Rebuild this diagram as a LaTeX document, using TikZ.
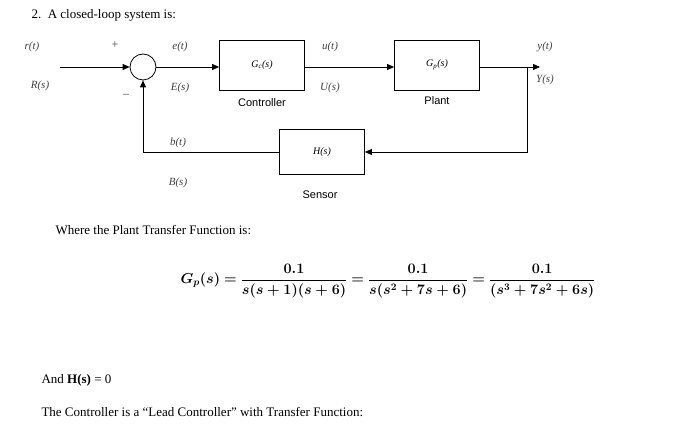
\documentclass[tikz,border=0pt]{standalone}
\usepackage{amsmath,bm}
\usepackage{fontspec}
\setmainfont{Liberation Serif}
\setsansfont{Liberation Sans}
\usetikzlibrary{arrows.meta}
\begin{document}
\begin{tikzpicture}[x=1pt,y=-1pt,
  blk/.style={draw,thick,minimum width=85pt,minimum height=50pt},
  ln/.style={thick,-{Triangle[length=7pt,width=6pt]}},
  lab/.style={font=\itshape\fontsize{11}{13}\selectfont,text=black!75},
  txt/.style={font=\fontsize{13}{15}\selectfont,anchor=west}]
\useasboundingbox[fill=white] (0,0) rectangle (700,435);
\node[txt] (title) at (28,15) {2.\ \ A closed-loop system is:};
\coordinate (in) at (60,67);
\node[draw,thick,circle,minimum size=26pt,inner sep=0] (sum) at (143,67) {};
\node[blk] (gc) at (262,65) {\itshape G\textsubscript{c}(s)};
\node[blk] (gp) at (437,65) {\itshape G\textsubscript{p}(s)};
\node[blk,minimum width=85pt,minimum height=45pt] (h) at (322,152) {\itshape H(s)};
\coordinate (out) at (540,67);
\coordinate (fb) at (527,67);
\draw[ln] (in) -- (sum);
\draw[ln] (sum) -- (gc.west|-sum);
\draw[ln] (gc.east|-sum) -- (gp.west|-sum);
\draw[ln] (gp.east|-sum) -- (out);
\draw[ln] (fb) |- (h.east);
\draw[ln] (h.west) -| (sum.south);
\node[lab] (rt) at (32,47) {r(t)};
\node[lab] (rs) at (40,86) {R(s)};
\node[lab,font=\fontsize{12}{14}\selectfont] (plus) at (115,45) {+};
\node[lab,font=\fontsize{12}{14}\selectfont] (minus) at (126,96) {--};
\node[lab] (et) at (180,47) {e(t)};
\node[lab] (es) at (180,88) {E(s)};
\node[lab] (ut) at (330,47) {u(t)};
\node[lab] (us) at (330,88) {U(s)};
\node[lab] (yt) at (545,47) {y(t)};
\node[lab] (ys) at (545,80) {Y(s)};
\node[lab] (bt) at (178,143) {b(t)};
\node[lab] (bs) at (178,183) {B(s)};
\node[font=\sffamily\fontsize{11}{13}\selectfont] (ctl) at (262,103) {Controller};
\node[font=\sffamily\fontsize{11}{13}\selectfont] (pl) at (437,101) {Plant};
\node[font=\sffamily\fontsize{11}{13}\selectfont] (se) at (320,195) {Sensor};
\node[txt] (where) at (52,230) {Where the Plant Transfer Function is:};
\node[font=\fontsize{14.4}{17}\selectfont] (eq) at (388,281)
 {$\bm{G_p(s)=\dfrac{0.1}{s(s+1)(s+6)}=\dfrac{0.1}{s(s^2+7s+6)}=\dfrac{0.1}{(s^3+7s^2+6s)}}$};
\node[txt] (and) at (38,380) {And \textbf{H(s)} = 0};
\node[txt] (lead) at (38,412) {The Controller is a ``Lead Controller'' with Transfer Function:};
\end{tikzpicture}
\end{document}
